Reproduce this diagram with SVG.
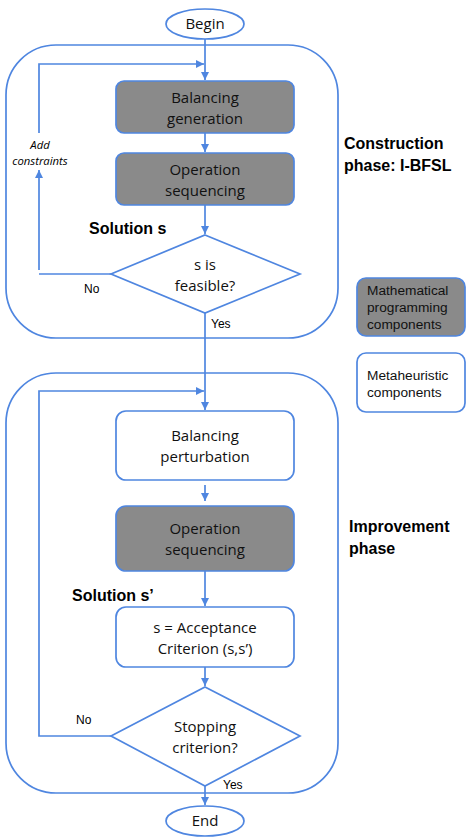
<svg xmlns="http://www.w3.org/2000/svg" width="474" height="840" viewBox="0 0 474 840">
<defs>
<marker id="arr" viewBox="0 0 10 10" refX="10" refY="5" markerWidth="8" markerHeight="8" markerUnits="userSpaceOnUse" orient="auto">
<path d="M0,0 L10,5 L0,10 z" fill="#4f86e0"/>
</marker>
<style>
.ln{fill:none;stroke:#4f86e0;stroke-width:1.7}
.wb{fill:#ffffff;stroke:#4f86e0;stroke-width:1.7}
.gb{fill:#8a8a8a;stroke:#4f86e0;stroke-width:1.7}
.nt{font-family:"Open Sans","Liberation Sans",sans-serif;font-size:15px;fill:#111;text-anchor:middle}
.bt{font-family:"Liberation Sans",Arial,sans-serif;font-size:16px;font-weight:bold;fill:#000}
.lt{font-family:"Liberation Sans",Arial,sans-serif;font-size:12px;fill:#000}
.gt{font-family:"Liberation Sans",Arial,sans-serif;font-size:13.7px;fill:#111}
.it{font-family:"Open Sans","Liberation Sans",sans-serif;font-size:11.3px;font-style:italic;fill:#000;text-anchor:middle}
</style>
</defs>
<rect width="474" height="840" fill="#ffffff"/>

<g id="phase1">
<rect x="6" y="45" width="332" height="293" rx="50" ry="50" class="ln"/>
<text class="bt" x="344" y="149">Construction</text>
<text class="bt" x="344" y="171">phase: I-BFSL</text>
</g>
<g id="phase2">
<rect x="6" y="373" width="332" height="420" rx="50" ry="50" class="ln"/>
<text class="bt" x="349" y="532">Improvement</text>
<text class="bt" x="349" y="554">phase</text>
</g>

<g id="connectors">
<line x1="205" y1="39" x2="205" y2="80" class="ln" marker-end="url(#arr)"/>
<polyline points="39,270 39,170" class="ln" marker-end="url(#arr)"/>
<polyline points="39,133 39,64 204,64" class="ln" marker-end="url(#arr)"/>
<line x1="111" y1="274" x2="39" y2="274" class="ln"/>
<line x1="205" y1="133" x2="205" y2="152" class="ln" marker-end="url(#arr)"/>
<line x1="205" y1="205" x2="205" y2="234" class="ln" marker-end="url(#arr)"/>
<line x1="205" y1="313" x2="205" y2="410" class="ln" marker-end="url(#arr)"/>
<polyline points="111,736 39,736 39,391 204,391" class="ln" marker-end="url(#arr)"/>
<line x1="205" y1="485" x2="205" y2="501" class="ln" marker-end="url(#arr)"/>
<line x1="205" y1="571" x2="205" y2="606" class="ln" marker-end="url(#arr)"/>
<line x1="205" y1="667" x2="205" y2="686" class="ln" marker-end="url(#arr)"/>
<line x1="205" y1="786" x2="205" y2="805" class="ln" marker-end="url(#arr)"/>
<text class="it" x="40" y="149">Add</text>
<text class="it" x="40" y="165">constraints</text>
<text class="lt" x="84" y="293">No</text>
<text class="lt" x="211" y="328">Yes</text>
<text class="lt" x="76" y="724">No</text>
<text class="lt" x="223" y="789">Yes</text>
<text class="bt" x="89" y="234">Solution s</text>
<text class="bt" x="72" y="601">Solution s’</text>
</g>

<g id="begin">
<ellipse cx="205" cy="24" rx="39" ry="15" class="wb"/>
<text class="nt" x="205" y="29">Begin</text>
</g>
<g id="balancing-generation">
<rect x="116" y="81" width="178" height="52" rx="8" class="gb"/>
<text class="nt" x="205" y="103">Balancing</text>
<text class="nt" x="205" y="124">generation</text>
</g>
<g id="operation-sequencing-1">
<rect x="116" y="153" width="178" height="52" rx="8" class="gb"/>
<text class="nt" x="205" y="175">Operation</text>
<text class="nt" x="205" y="196">sequencing</text>
</g>
<g id="feasible">
<polygon points="205,235 300,274 205,313 111,274" class="wb"/>
<text class="nt" x="205" y="270">s is</text>
<text class="nt" x="205" y="291">feasible?</text>
</g>
<g id="balancing-perturbation">
<rect x="116" y="411" width="178" height="69" rx="10" class="wb"/>
<text class="nt" x="205" y="441">Balancing</text>
<text class="nt" x="205" y="462">perturbation</text>
</g>
<g id="operation-sequencing-2">
<rect x="116" y="506" width="178" height="65" rx="10" class="gb"/>
<text class="nt" x="205" y="534">Operation</text>
<text class="nt" x="205" y="555">sequencing</text>
</g>
<g id="acceptance">
<rect x="116" y="607" width="178" height="60" rx="10" class="wb"/>
<text class="nt" x="205" y="633">s = Acceptance</text>
<text class="nt" x="205" y="654">Criterion (s,s’)</text>
</g>
<g id="stopping">
<polygon points="205,687 300,736 205,786 111,736" class="wb"/>
<text class="nt" x="205" y="732">Stopping</text>
<text class="nt" x="205" y="753">criterion?</text>
</g>
<g id="end">
<ellipse cx="205" cy="821" rx="39" ry="15" class="wb"/>
<text class="nt" x="205" y="826">End</text>
</g>

<g id="legend-math">
<rect x="357" y="278" width="108" height="58" rx="9" class="gb"/>
<text class="gt" x="367" y="295">Mathematical</text>
<text class="gt" x="367" y="312">programming</text>
<text class="gt" x="367" y="329">components</text>
</g>
<g id="legend-meta">
<rect x="357" y="353" width="108" height="59" rx="9" class="wb"/>
<text class="gt" x="367" y="380">Metaheuristic</text>
<text class="gt" x="367" y="397">components</text>
</g>
</svg>
